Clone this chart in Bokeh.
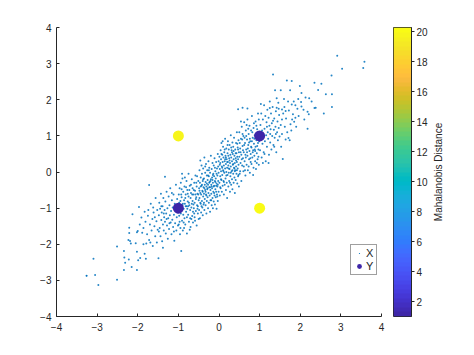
import math
import numpy as np
from bokeh.plotting import figure
from bokeh.models import Range1d, FixedTicker, LinearColorMapper, Legend, LegendItem, ColumnDataSource, Label
from bokeh.layouts import row
from bokeh.embed import file_html
from bokeh.resources import INLINE

# ---------------- data (hand-estimated) ----------------
X_tail_low = [(-3.26,-2.87),(-3.09,-2.40),(-3.05,-2.85),(-2.97,-3.13),(-2.51,-2.98),(-2.51,-2.06),
    (-2.34,-2.19),(-2.33,-2.37),(-2.31,-2.51),(-2.34,-2.71),(-2.22,-2.42),(-2.15,-2.63),(-2.02,-2.71),
    (-2.02,-2.21),(-1.99,-2.44),(-2.23,-1.88),(-2.19,-1.91),(-2.17,-1.98),(-2.05,-1.97),(-2.21,-1.69),
    (-2.21,-1.54),(-2.13,-1.17),(-2.02,-1.67),(-2.00,-1.63),(-1.49,-2.39),(-0.93,-2.19)]

X_band_m2 = [(-1.97,-0.97),(-1.83,-1.10),(-1.89,-1.68),(-1.86,-2.00),(-1.79,-1.98),(-1.83,-2.26),(-1.80,-2.40),
    (-1.94,-2.38),(-1.72,-0.36),(-1.95,-1.45),(-1.91,-1.26),(-1.86,-1.55),(-1.81,-1.38),(-1.77,-1.72),(-1.75,-1.21),
    (-1.72,-1.88),(-1.70,-1.45),(-1.68,-0.88),(-1.66,-1.62),(-1.64,-1.30),(-1.63,-2.05),(-1.61,-1.12),(-1.59,-1.50),
    (-1.57,-1.78),(-1.56,-0.72),(-1.54,-1.36),(-1.53,-1.95),(-1.52,-1.05),(-1.51,-1.60),(-1.74,-1.05),(-1.69,-1.95),
    (-1.58,-1.25),(-1.62,-0.98)]

X_band_m15 = [(-1.48,-1.20),(-1.47,-0.85),(-1.46,-1.55),(-1.45,-1.02),(-1.44,-1.78),(-1.43,-0.60),(-1.42,-1.33),
    (-1.41,-1.12),(-1.40,-1.92),(-1.39,-0.95),(-1.38,-1.45),(-1.37,-0.72),(-1.36,-1.62),(-1.35,-1.25),(-1.34,-1.05),
    (-1.33,-0.13),(-1.33,-1.38),(-1.32,-0.82),(-1.31,-1.70),(-1.30,-1.15),(-1.29,-0.55),(-1.28,-1.48),(-1.27,-1.00),
    (-1.26,-1.85),(-1.25,-1.28),(-1.24,-0.68),(-1.23,-1.58),(-1.22,-0.92),(-1.21,-1.20),(-1.20,-0.45),(-1.19,-1.40),
    (-1.18,-1.08),(-1.17,-1.72),(-1.16,-0.78),(-1.15,-1.32),(-1.14,-0.98),(-1.13,-1.52),(-1.12,-0.62),(-1.11,-1.18),
    (-1.10,-1.90),(-1.09,-0.88),(-1.08,-1.42),(-1.07,-1.05),(-1.06,-0.35),(-1.05,-1.62),(-1.04,-1.25),(-1.03,-0.75),
    (-1.02,-1.12),(-1.01,-1.48),(-1.48,-1.65),(-1.42,-0.95),(-1.36,-1.15),(-1.29,-1.30),(-1.22,-1.42),(-1.16,-0.58),
    (-1.11,-1.65),(-1.06,-0.95),(-1.38,-2.10)]

X_band_m1 = [(-0.99,-0.62),(-0.98,-1.21),(-0.97,-0.45),(-0.96,-0.98),(-0.95,-1.55),(-0.95,-0.80),(-0.94,-0.30),
    (-0.93,-1.08),(-0.92,-0.70),(-0.91,-1.35),(-0.90,-0.92),(-0.90,-0.18),(-0.89,-1.62),(-0.88,-0.55),(-0.87,-1.02),
    (-0.86,-0.78),(-0.85,-1.28),(-0.85,-0.40),(-0.84,-0.88),(-0.83,-1.45),(-0.82,-0.62),(-0.81,-1.10),(-0.80,-0.25),
    (-0.80,-0.95),(-0.79,-1.70),(-0.78,-0.50),(-0.77,-0.82),(-0.76,-1.18),(-0.75,-0.68),(-0.75,-0.05),(-0.74,-1.38),
    (-0.73,-0.92),(-0.72,-0.38),(-0.71,-1.05),(-0.70,-0.72),(-0.70,-1.52),(-0.69,-0.58),(-0.68,-0.98),(-0.67,-0.20),
    (-0.66,-1.22),(-0.65,-0.80),(-0.65,-0.45),(-0.64,-1.40),(-0.63,-0.62),(-0.62,-1.00),(-0.61,-0.30),(-0.60,-0.85),
    (-0.60,-1.25),(-0.59,-0.52),(-0.58,-0.10),(-0.57,-1.08),(-0.56,-0.70),(-0.55,-1.48),(-0.55,-0.40),(-0.54,-0.92),
    (-0.53,-0.60),(-0.52,-1.15),(-0.51,-0.25),(-0.50,-0.78),(-0.50,-1.30),(-0.98,-0.85),(-0.96,-1.72),(-0.94,-1.15),
    (-0.92,-0.48),(-0.89,-0.88),(-0.87,-1.40),(-0.84,-0.15),(-0.82,-0.95),(-0.79,-1.25),(-0.77,-0.60),(-0.74,-0.85),
    (-0.72,-1.60),(-0.69,-0.35),(-0.67,-0.88),(-0.64,-1.10),(-0.62,-0.50),(-0.59,-1.35),(-0.57,-0.75),(-0.54,-0.12),
    (-0.52,-0.95),(-0.97,-1.38),(-0.93,-0.62),(-0.88,-1.18),(-0.83,-0.72),(-0.78,-1.02),(-0.73,-0.50),(-0.68,-1.30),
    (-0.63,-0.90),(-0.58,-0.62),(-0.53,-1.02),(-0.91,-0.05),(-0.86,-1.55),(-0.81,-0.42),(-0.76,-0.95),(-0.71,-1.28),
    (-0.66,-0.62),(-0.61,-1.15),(-0.56,-0.30),(-0.51,-0.62),(-0.99,-1.45)]

X_band_m05 = [(-0.49,-0.45),(-0.49,-1.05),(-0.48,0.05),(-0.48,-0.72),(-0.47,-0.30),(-0.47,-1.28),(-0.46,-0.58),
    (-0.46,0.32),(-0.45,-0.88),(-0.45,-0.15),(-0.44,-0.62),(-0.44,-1.12),(-0.43,-0.38),(-0.43,0.18),(-0.42,-0.80),
    (-0.42,-0.05),(-0.41,-0.52),(-0.41,-0.98),(-0.40,-0.25),(-0.40,-1.20),(-0.39,-0.68),(-0.39,0.10),(-0.38,-0.42),
    (-0.38,-0.90),(-0.37,-0.18),(-0.37,-0.60),(-0.36,0.40),(-0.36,-1.05),(-0.35,-0.35),(-0.35,-0.75),(-0.34,-0.02),
    (-0.34,-0.50),(-0.33,-0.92),(-0.33,-0.28),(-0.32,0.22),(-0.32,-0.62),(-0.31,-1.15),(-0.31,-0.40),(-0.30,-0.10),
    (-0.30,-0.80),(-0.29,-0.48),(-0.29,0.05),(-0.28,-0.70),(-0.28,-0.22),(-0.27,-1.00),(-0.27,-0.35),(-0.26,0.30),
    (-0.26,-0.58),(-0.25,-0.12),(-0.25,-0.85),(-0.24,-0.42),(-0.24,0.12),(-0.23,-0.65),(-0.23,-0.28),(-0.22,-1.10),
    (-0.22,-0.02),(-0.21,-0.50),(-0.21,-0.78),(-0.20,-0.20),(-0.20,0.45),(-0.19,-0.60),(-0.19,-0.35),(-0.18,-0.92),
    (-0.18,0.08),(-0.17,-0.45),(-0.17,-0.15),(-0.16,-0.72),(-0.16,0.25),(-0.15,-0.30),(-0.15,-1.00),(-0.14,-0.55),
    (-0.14,-0.05),(-0.13,-0.82),(-0.13,0.18),(-0.12,-0.38),(-0.12,-0.12),(-0.11,-0.65),(-0.11,0.38),(-0.10,-0.25),
    (-0.10,-0.90),(-0.09,-0.48),(-0.09,0.02),(-0.08,-0.70),(-0.08,-0.18),(-0.07,0.28),(-0.07,-0.55),(-0.06,-0.32),
    (-0.06,-1.02),(-0.05,0.10),(-0.05,-0.62),(-0.04,-0.10),(-0.04,-0.40),(-0.03,0.50),(-0.03,-0.80),(-0.02,-0.25),
    (-0.02,0.15),(-0.01,-0.55),(-0.01,-0.02),(-0.48,-0.52),(-0.45,-0.40),(-0.42,-0.35),(-0.39,-0.20),(-0.36,-0.45),
    (-0.33,-0.55),(-0.30,-0.32),(-0.27,-0.10),(-0.24,-0.30),(-0.21,-0.25),(-0.18,-0.40),(-0.15,-0.08),(-0.12,-0.58),
    (-0.09,-0.28),(-0.06,-0.05),(-0.03,-0.35),(-0.46,-0.85),(-0.43,-0.95),(-0.40,-0.55),(-0.37,-0.85),(-0.34,0.15),
    (-0.31,-0.65),(-0.28,-0.45),(-0.25,0.05),(-0.22,-0.42),(-0.19,-0.78),(-0.16,-0.22),(-0.13,-0.40),(-0.10,0.12),
    (-0.07,-0.38),(-0.04,-0.68),(-0.01,0.30)]

X_band_p0 = [(0.01,0.42),(0.01,-0.30),(0.02,0.08),(0.02,-0.65),(0.03,0.25),(0.03,-0.12),(0.04,0.60),(0.04,-0.45),
    (0.05,0.02),(0.05,0.35),(0.06,-0.22),(0.06,0.80),(0.07,-0.55),(0.07,0.15),(0.08,0.48),(0.08,-0.08),(0.09,-0.38),
    (0.09,0.28),(0.10,0.05),(0.10,0.70),(0.11,-0.25),(0.11,0.40),(0.12,-0.62),(0.12,0.18),(0.13,-0.02),(0.13,0.55),
    (0.14,-0.35),(0.14,0.30),(0.15,0.10),(0.15,0.92),(0.16,-0.18),(0.16,0.45),(0.17,-0.50),(0.17,0.22),(0.18,0.00),
    (0.18,0.65),(0.19,-0.30),(0.19,0.35),(0.20,0.12),(0.20,-0.72),(0.21,0.52),(0.21,-0.08),(0.22,0.28),(0.22,0.85),
    (0.23,-0.40),(0.23,0.18),(0.24,-0.02),(0.24,0.62),(0.25,0.38),(0.25,-0.25),(0.26,0.08),(0.26,0.75),(0.27,-0.55),
    (0.27,0.25),(0.28,0.48),(0.28,-0.12),(0.29,0.15),(0.29,1.02),(0.30,-0.35),(0.30,0.40),(0.31,0.02),(0.31,0.60),
    (0.32,-0.20),(0.32,0.30),(0.33,0.82),(0.33,-0.48),(0.34,0.20),(0.34,0.50),(0.35,-0.05),(0.35,0.70),(0.36,0.35),
    (0.36,-0.30),(0.37,0.12),(0.37,0.95),(0.38,-0.15),(0.38,0.45),(0.39,0.25),(0.39,-0.58),(0.40,0.62),(0.40,0.05),
    (0.41,0.38),(0.41,-0.22),(0.42,0.80),(0.42,0.15),(0.43,-0.05),(0.43,0.52),(0.44,0.28),(0.44,1.10),(0.45,-0.32),
    (0.45,0.42),(0.46,0.10),(0.46,0.68),(0.47,-0.12),(0.47,0.35),(0.48,0.88),(0.48,0.20),(0.49,-0.40),(0.49,0.55),
    (0.02,0.20),(0.05,-0.20),(0.08,0.12),(0.11,0.02),(0.14,0.62),(0.17,0.40),(0.20,0.28),(0.23,0.45),(0.26,0.32),
    (0.29,-0.02),(0.32,0.55),(0.35,0.22),(0.38,0.10),(0.41,0.52),(0.44,0.05),(0.47,0.62),(0.03,-0.42),(0.06,0.50),
    (0.09,0.85),(0.12,-0.28),(0.15,0.35),(0.18,-0.10),(0.21,0.75),(0.24,0.10),(0.27,-0.30),(0.30,0.68),(0.33,0.05),
    (0.36,0.58),(0.39,0.02),(0.42,0.32),(0.45,0.78),(0.48,-0.08)]

X_band_p05 = [(0.50,0.42),(0.50,1.10),(0.51,-0.05),(0.52,0.65),(0.53,0.25),(0.54,0.92),(0.55,0.48),(0.55,-0.25),
    (0.56,1.25),(0.57,0.18),(0.58,0.72),(0.59,0.38),(0.60,1.00),(0.60,0.02),(0.61,0.55),(0.62,1.38),(0.63,0.30),
    (0.64,0.80),(0.65,0.48),(0.65,-0.10),(0.66,1.15),(0.67,0.62),(0.68,0.20),(0.69,0.90),(0.70,0.45),(0.70,1.45),
    (0.71,0.05),(0.72,0.75),(0.73,1.05),(0.74,0.35),(0.75,0.58),(0.75,1.28),(0.76,-0.02),(0.77,0.85),(0.78,0.50),
    (0.79,1.15),(0.80,0.22),(0.80,0.68),(0.81,1.55),(0.82,0.40),(0.83,0.95),(0.84,0.60),(0.85,0.12),(0.85,1.22),
    (0.86,0.78),(0.87,0.45),(0.88,1.02),(0.89,0.30),(0.90,1.40),(0.90,0.70),(0.91,0.08),(0.92,0.88),(0.93,0.52),
    (0.94,1.18),(0.95,0.35),(0.95,0.98),(0.96,1.62),(0.97,0.62),(0.98,0.20),(0.99,1.10),(0.51,0.80),(0.53,0.55),
    (0.56,0.35),(0.58,1.05),(0.61,0.15),(0.63,0.95),(0.66,0.40),(0.68,1.30),(0.71,0.65),(0.73,0.15),(0.76,0.92),
    (0.78,0.28),(0.81,0.85),(0.83,0.55),(0.86,1.35),(0.88,0.62),(0.91,1.00),(0.93,0.25),(0.96,0.80),(0.98,1.45),
    (0.52,0.02),(0.54,1.40),(0.57,0.90),(0.59,0.60),(0.62,0.75),(0.64,0.05),(0.67,1.00),(0.69,0.55),(0.72,1.20),
    (0.74,0.82),(0.77,0.38),(0.79,0.70),(0.82,1.10),(0.84,-0.08),(0.87,0.92),(0.89,0.58),(0.92,1.28),(0.94,0.72),
    (0.97,0.42),(0.99,0.85),(0.47,1.74),(0.58,1.78),(0.70,1.76)]

X_band_p1 = [(1.03,1.88),(1.01,0.60),(1.02,1.30),(1.03,0.95),(1.04,1.62),(1.05,0.40),(1.06,1.15),(1.07,0.78),
    (1.08,1.45),(1.09,1.05),(1.10,0.55),(1.11,1.85),(1.12,1.20),(1.13,0.85),(1.14,1.55),(1.15,0.30),(1.16,1.02),
    (1.17,1.38),(1.18,0.70),(1.19,1.72),(1.20,1.10),(1.21,0.92),(1.22,1.50),(1.23,0.48),(1.24,1.28),(1.25,1.95),
    (1.26,0.82),(1.27,1.18),(1.28,1.62),(1.29,0.62),(1.30,1.35),(1.31,1.00),(1.32,1.80),(1.33,2.70),(1.34,0.75),
    (1.35,1.17),(1.36,1.48),(1.37,0.95),(1.38,2.26),(1.39,1.25),(1.40,1.68),(1.41,0.55),(1.42,2.04),(1.43,1.10),
    (1.44,1.40),(1.45,0.88),(1.46,1.92),(1.47,1.22),(1.48,1.58),(1.49,0.98),(1.05,1.00),(1.12,0.50),(1.18,1.25),
    (1.26,1.05),(1.33,1.42),(1.40,1.05),(1.47,1.75),(1.08,0.25),(1.22,0.25),(1.36,0.70),(1.25,1.77),(1.42,1.78)]

X_band_p15 = [(1.52,2.26),(1.60,2.02),(1.61,1.80),(1.57,0.36),(1.67,2.53),(1.79,2.52),(1.75,2.26),(1.84,1.95),
    (1.71,0.94),(1.74,0.88),(1.80,1.45),(1.85,1.39),(1.99,2.38),(1.52,1.30),(1.55,1.05),(1.58,1.62),(1.62,1.25),
    (1.65,1.48),(1.68,1.10),(1.72,1.70),(1.76,1.32),(1.82,1.60),(1.88,1.50),(1.93,1.75),(1.55,1.45),(1.64,0.90),
    (1.70,1.95),(1.78,1.15),(1.90,1.25),(1.96,1.55),(1.53,0.70),(1.55,1.73),(1.64,1.69),(1.79,1.87),(1.88,1.85),
    (1.95,2.02)]

X_tail_high = [(2.03,2.19),(2.02,1.94),(2.13,2.06),(2.22,2.04),(2.35,2.47),(2.44,2.27),(2.35,1.77),(2.21,1.60),
    (2.18,1.20),(2.08,1.72),(2.28,1.95),(2.10,1.45),(2.03,1.81),(2.38,1.78),(2.18,1.67),(2.52,2.44),(2.63,2.15),
    (2.78,2.15),(2.78,1.80),(2.58,1.62),(2.77,2.67),(2.91,3.22),(3.03,2.86),(3.58,3.05),(3.55,2.88)]

Y_x = [1, 1, -1, -1]
Y_y = [1, -1, 1, -1]
Y_d2 = [1.05, 20.27, 19.85, 1.02]

axis_ticks = [-4, -3, -2, -1, 0, 1, 2, 3, 4]
cbar_ticks = [2, 4, 6, 8, 10, 12, 14, 16, 18, 20]
cbar_title = "Mahalanobis Distance"

parula64 = [
    (0.2422,0.1504,0.6603),(0.2504,0.1650,0.7076),(0.2578,0.1818,0.7511),(0.2647,0.1978,0.7952),
    (0.2706,0.2147,0.8364),(0.2751,0.2342,0.8710),(0.2783,0.2559,0.8991),(0.2803,0.2782,0.9221),
    (0.2813,0.3006,0.9414),(0.2810,0.3228,0.9579),(0.2795,0.3447,0.9717),(0.2760,0.3667,0.9829),
    (0.2699,0.3892,0.9906),(0.2602,0.4123,0.9952),(0.2440,0.4358,0.9988),(0.2206,0.4603,0.9973),
    (0.1963,0.4847,0.9892),(0.1834,0.5074,0.9798),(0.1786,0.5289,0.9682),(0.1764,0.5499,0.9520),
    (0.1687,0.5703,0.9359),(0.1540,0.5902,0.9218),(0.1460,0.6091,0.9079),(0.1380,0.6276,0.8973),
    (0.1248,0.6459,0.8883),(0.1113,0.6635,0.8763),(0.0952,0.6798,0.8598),(0.0689,0.6948,0.8394),
    (0.0297,0.7082,0.8163),(0.0036,0.7203,0.7917),(0.0067,0.7312,0.7660),(0.0433,0.7411,0.7394),
    (0.0964,0.7500,0.7120),(0.1408,0.7584,0.6842),(0.1717,0.7670,0.6554),(0.1938,0.7758,0.6251),
    (0.2161,0.7843,0.5923),(0.2470,0.7918,0.5567),(0.2906,0.7973,0.5188),(0.3406,0.8008,0.4789),
    (0.3909,0.8029,0.4354),(0.4456,0.8024,0.3909),(0.5044,0.7993,0.3480),(0.5616,0.7942,0.3045),
    (0.6174,0.7876,0.2612),(0.6720,0.7793,0.2227),(0.7242,0.7698,0.1910),(0.7738,0.7598,0.1646),
    (0.8203,0.7498,0.1535),(0.8634,0.7406,0.1596),(0.9035,0.7330,0.1774),(0.9393,0.7288,0.2100),
    (0.9728,0.7298,0.2394),(0.9956,0.7434,0.2371),(0.9970,0.7659,0.2199),(0.9952,0.7893,0.2028),
    (0.9892,0.8136,0.1885),(0.9786,0.8386,0.1766),(0.9676,0.8639,0.1643),(0.9610,0.8890,0.1537),
    (0.9597,0.9135,0.1423),(0.9628,0.9373,0.1265),(0.9691,0.9606,0.1064),(0.9769,0.9839,0.0805)]

# ---------------- build ----------------
FONT = "Liberation Sans"
AX = "#262626"
palette = ["#%02x%02x%02x" % tuple(int(round(c * 255)) for c in rgb) for rgb in parula64]

X_all = X_tail_low + X_band_m2 + X_band_m15 + X_band_m1 + X_band_m05 + X_band_p0 + X_band_p05 + X_band_p1 + X_band_p15 + X_tail_high
xs = [p[0] for p in X_all]
ys = [p[1] for p in X_all]

lo, hi = min(Y_d2), max(Y_d2)
mapper = LinearColorMapper(palette=palette, low=lo, high=hi)

p = figure(frame_width=325, frame_height=289, x_range=Range1d(-4, 4), y_range=Range1d(-4, 4),
           output_backend="svg", toolbar_location=None,
           min_border_left=56, min_border_right=5, min_border_top=27, min_border_bottom=39,
           background_fill_color="white", border_fill_color="white", outline_line_color=None)
p.grid.visible = False
for ax in (p.xaxis[0], p.yaxis[0]):
    ax.ticker = FixedTicker(ticks=axis_ticks, minor_ticks=[])
    ax.axis_line_color = AX
    ax.major_tick_line_color = AX
    ax.major_tick_in = 3
    ax.major_tick_out = 0
    ax.minor_tick_line_color = None
    ax.major_label_text_color = AX
    ax.major_label_text_font = FONT
    ax.major_label_text_font_size = "10px"
p.yaxis[0].major_label_standoff = 5
p.xaxis[0].major_label_standoff = 6

r_x = p.scatter(xs, ys, marker="circle", size=2.0, fill_color="#0072BD", fill_alpha=0.85, line_color=None)
src_y = ColumnDataSource(dict(x=Y_x, y=Y_y, d2=Y_d2))
r_y = p.scatter("x", "y", source=src_y, marker="circle", size=11,
                fill_color={"field": "d2", "transform": mapper}, line_color=None)

# legend proxy for X: same first point, drawn as a tiny dot
r_xleg = p.scatter(xs[:1], ys[:1], marker="dot", size=6, line_color="#0072BD", fill_color="#0072BD")

legend = Legend(items=[LegendItem(label="X", renderers=[r_xleg]), LegendItem(label="Y", renderers=[r_y])],
                location=(294, 41), orientation="vertical",
                glyph_width=12, glyph_height=12, label_height=10, label_width=8,
                label_standoff=1, spacing=1, padding=2, margin=0,
                label_text_font=FONT, label_text_font_size="11px", label_text_color=AX,
                border_line_color="#404040", border_line_width=1,
                background_fill_color="white", background_fill_alpha=1)
p.add_layout(legend, "center")

# colorbar panel
p2 = figure(frame_width=18, frame_height=289, x_range=Range1d(0, 1), y_range=Range1d(lo, hi),
            y_axis_location="right", x_axis_location=None,
            output_backend="svg", toolbar_location=None,
            min_border_left=7, min_border_right=18, min_border_top=27, min_border_bottom=39,
            background_fill_color="white", border_fill_color="white",
            outline_line_color=AX, outline_line_width=1)
p2.grid.visible = False
grad = np.linspace(lo, hi, 289).reshape(-1, 1)
p2.image(image=[grad], x=0, y=lo, dw=1, dh=hi - lo, color_mapper=mapper)
ya = p2.yaxis[0]
ya.ticker = FixedTicker(ticks=cbar_ticks, minor_ticks=[])
ya.axis_line_color = AX
ya.major_tick_line_color = AX
ya.major_tick_in = 0
ya.major_tick_out = 3
ya.minor_tick_line_color = None
ya.major_label_standoff = 2
ya.major_label_text_color = AX
ya.major_label_text_font = FONT
ya.major_label_text_font_size = "10px"

# colorbar title panel
p3 = figure(frame_width=18, frame_height=289, x_range=Range1d(0, 1), y_range=Range1d(0, 1),
            x_axis_location=None, y_axis_location=None,
            output_backend="svg", toolbar_location=None,
            min_border_left=0, min_border_right=27, min_border_top=27, min_border_bottom=39,
            background_fill_color="white", border_fill_color="white", outline_line_color=None)
p3.grid.visible = False
title_lbl = Label(x=7.5, y=0.5, x_units="screen", y_units="data", text=cbar_title,
                  angle=math.pi / 2, text_align="center", text_baseline="middle",
                  text_font=FONT, text_font_size="10px", text_color=AX)
p3.add_layout(title_lbl)

layout = row(p, p2, p3)
open("out.html", "w").write(file_html(layout, INLINE))
